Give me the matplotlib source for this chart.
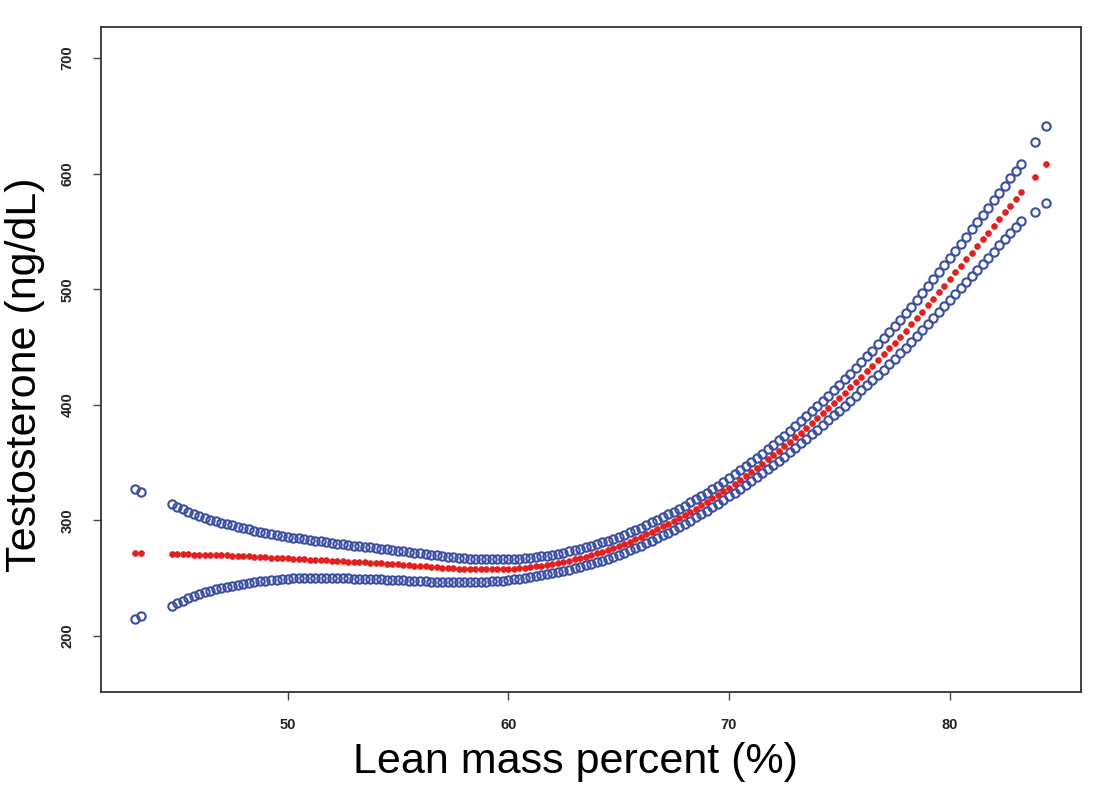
import matplotlib
matplotlib.use("Agg")
import matplotlib.pyplot as plt

# lean mass percent (x) and fitted testosterone with its upper / lower bounds
lean_mass = [
    43.1, 43.35,
    44.75, 45.0, 45.25, 45.5, 45.75, 46.0, 46.25, 46.5, 46.75, 47.0,
    47.25, 47.5, 47.75, 48.0, 48.25, 48.5, 48.75, 49.0, 49.25, 49.5,
    49.75, 50.0, 50.25, 50.5, 50.75, 51.0, 51.25, 51.5, 51.75, 52.0,
    52.25, 52.5, 52.75, 53.0, 53.25, 53.5, 53.75, 54.0, 54.25, 54.5,
    54.75, 55.0, 55.25, 55.5, 55.75, 56.0, 56.25, 56.5, 56.75, 57.0,
    57.25, 57.5, 57.75, 58.0, 58.25, 58.5, 58.75, 59.0, 59.25, 59.5,
    59.75, 60.0, 60.25, 60.5, 60.75, 61.0, 61.25, 61.5, 61.75, 62.0,
    62.25, 62.5, 62.75, 63.0, 63.25, 63.5, 63.75, 64.0, 64.25, 64.5,
    64.75, 65.0, 65.25, 65.5, 65.75, 66.0, 66.25, 66.5, 66.75, 67.0,
    67.25, 67.5, 67.75, 68.0, 68.25, 68.5, 68.75, 69.0, 69.25, 69.5,
    69.75, 70.0, 70.25, 70.5, 70.75, 71.0, 71.25, 71.5, 71.75, 72.0,
    72.25, 72.5, 72.75, 73.0, 73.25, 73.5, 73.75, 74.0, 74.25, 74.5,
    74.75, 75.0, 75.25, 75.5, 75.75, 76.0, 76.25, 76.5, 76.75, 77.0,
    77.25, 77.5, 77.75, 78.0, 78.25, 78.5, 78.75, 79.0, 79.25, 79.5,
    79.75, 80.0, 80.25, 80.5, 80.75, 81.0, 81.25, 81.5, 81.75, 82.0,
    82.25, 82.5, 82.75, 83.0, 83.25,
    83.86, 84.36,
]

fitted = [
    271.8, 271.8,
    270.9, 270.8, 270.7, 270.6, 270.5, 270.4, 270.3, 270.2, 270.1, 270.0,
    269.8, 269.6, 269.4, 269.2, 269.0, 268.7, 268.5, 268.2, 267.9, 267.6,
    267.4, 267.1, 266.9, 266.6, 266.4, 266.1, 265.9, 265.6, 265.4, 265.1,
    264.9, 264.6, 264.4, 264.1, 263.9, 263.6, 263.4, 263.1, 262.8, 262.5,
    262.2, 261.9, 261.6, 261.2, 260.9, 260.5, 260.2, 259.8, 259.5, 259.1,
    258.8, 258.5, 258.2, 258.0, 257.8, 257.7, 257.6, 257.6, 257.6, 257.7,
    257.9, 258.1, 258.4, 258.7, 259.1, 259.6, 260.2, 260.8, 261.5, 262.3,
    263.2, 264.2, 265.2, 266.3, 267.5, 268.7, 270.1, 271.5, 273.0, 274.5,
    276.2, 278.0, 279.8, 281.7, 283.7, 285.8, 288.0, 290.2, 292.5, 294.8,
    297.2, 299.7, 302.2, 304.8, 307.5, 310.3, 313.1, 316.0, 319.0, 322.1,
    325.2, 328.4, 331.7, 335.0, 338.4, 341.9, 345.4, 349.0, 352.7, 356.4,
    360.2, 364.0, 367.9, 371.9, 375.9, 380.0, 384.2, 388.4, 392.7, 397.0,
    401.4, 405.9, 410.4, 415.0, 419.7, 424.4, 429.2, 434.0, 438.9, 443.8,
    448.8, 453.9, 459.0, 464.1, 469.6, 475.1, 480.6, 486.2, 491.8, 497.4,
    503.1, 508.9, 514.5, 520.1, 525.8, 531.6, 537.3, 543.1, 548.9, 554.8,
    560.6, 566.5, 572.4, 578.3, 584.1,
    597.0, 608.0,
]

upper = [
    327.0, 324.6,
    314.2, 311.8, 309.7, 307.6, 305.7, 303.9, 302.3, 300.7, 299.3, 298.0,
    296.8, 295.6, 294.4, 293.2, 292.2, 291.2, 290.2, 289.2, 288.3, 287.4,
    286.6, 285.8, 285.1, 284.4, 283.8, 283.1, 282.5, 281.8, 281.2, 280.6,
    280.0, 279.4, 278.8, 278.2, 277.7, 277.1, 276.6, 276.0, 275.4, 274.9,
    274.3, 273.8, 273.2, 272.6, 272.0, 271.4, 270.9, 270.3, 269.8, 269.2,
    268.7, 268.2, 267.7, 267.4, 267.0, 266.8, 266.5, 266.4, 266.3, 266.3,
    266.4, 266.5, 266.7, 266.9, 267.3, 267.7, 268.2, 268.8, 269.5, 270.3,
    271.2, 272.2, 273.2, 274.3, 275.5, 276.7, 278.1, 279.5, 281.0, 282.5,
    284.2, 286.0, 287.8, 289.7, 291.7, 293.8, 296.0, 298.2, 300.5, 302.8,
    305.2, 307.7, 310.2, 312.8, 315.5, 318.3, 321.1, 324.0, 327.0, 330.1,
    333.2, 336.5, 339.9, 343.2, 346.7, 350.3, 353.9, 357.6, 361.5, 365.3,
    369.2, 373.2, 377.2, 381.4, 385.6, 389.9, 394.3, 398.7, 403.2, 407.7,
    412.4, 417.1, 421.9, 426.7, 431.7, 436.7, 441.8, 446.9, 452.2, 457.4,
    462.8, 468.2, 473.7, 479.1, 485.0, 490.9, 496.8, 502.8, 508.8, 514.8,
    521.0, 527.2, 533.2, 539.3, 545.4, 551.7, 557.9, 564.1, 570.4, 576.8,
    583.1, 589.5, 595.9, 602.3, 608.6,
    627.0, 641.0,
]

lower = [
    214.7, 217.3,
    225.9, 228.3, 230.5, 232.6, 234.5, 236.4, 237.8, 239.2, 240.4, 241.5,
    242.6, 243.6, 244.4, 245.2, 246.0, 246.7, 247.4, 247.9, 248.4, 248.8,
    249.2, 249.5, 249.8, 250.0, 250.2, 250.2, 250.3, 250.3, 250.3, 250.2,
    250.2, 250.0, 249.9, 249.7, 249.6, 249.4, 249.3, 249.1, 248.9, 248.7,
    248.5, 248.3, 248.2, 247.9, 247.8, 247.5, 247.4, 247.1, 247.0, 246.7,
    246.6, 246.5, 246.4, 246.4, 246.4, 246.5, 246.7, 246.9, 247.2, 247.5,
    248.0, 248.4, 249.0, 249.5, 250.1, 250.8, 251.6, 252.4, 253.3, 254.2,
    255.2, 256.3, 257.4, 258.6, 259.8, 261.0, 262.4, 263.8, 265.3, 266.8,
    268.5, 270.3, 272.1, 274.0, 276.0, 278.1, 280.3, 282.5, 284.8, 287.1,
    289.5, 292.0, 294.5, 297.1, 299.8, 302.6, 305.4, 308.3, 311.3, 314.4,
    317.5, 320.7, 324.0, 327.2, 330.6, 334.0, 337.4, 340.8, 344.4, 348.0,
    351.6, 355.2, 359.0, 362.8, 366.6, 370.5, 374.5, 378.5, 382.6, 386.6,
    390.8, 395.0, 399.2, 403.6, 408.0, 412.4, 416.9, 421.4, 425.9, 430.5,
    435.1, 439.9, 444.6, 449.3, 454.4, 459.5, 464.5, 469.7, 474.8, 480.0,
    485.2, 490.6, 495.7, 500.9, 506.1, 511.4, 516.6, 521.9, 527.2, 532.6,
    537.9, 543.2, 548.6, 553.9, 559.1,
    567.0, 575.0,
]

x_ticks = [50, 60, 70, 80]
y_ticks = [200, 300, 400, 500, 600, 700]

blue = '#3a4ea3'
red = '#e3201f'

fig = plt.figure(figsize=(11.02, 8.02), dpi=100)
ax = fig.add_axes([0.0917, 0.1372, 0.8893, 0.8291])

for band in (upper, lower):
    ax.plot(lean_mass, band, linestyle='none', marker='o', markersize=6.0,
            markerfacecolor='none', markeredgecolor=blue, markeredgewidth=1.5)
ax.plot(lean_mass, fitted, linestyle='none', marker='o', markersize=4.2,
        markerfacecolor=red, markeredgecolor=red, markeredgewidth=0.5)

ax.set_xlim(41.55, 85.95)
ax.set_ylim(151.6, 726.8)
ax.set_xticks(x_ticks)
ax.set_yticks(y_ticks)
ax.set_xticklabels([str(t) for t in x_ticks], fontsize=10.5, fontweight='bold',
                   family='Liberation Sans', color='#222222')
ax.set_yticklabels([str(t) for t in y_ticks], fontsize=10.5, fontweight='bold',
                   family='Liberation Sans', color='#222222', rotation=90, va='center')
ax.tick_params(axis='both', direction='out', length=6, width=1, color='#444444')
ax.tick_params(axis='x', pad=13)
ax.tick_params(axis='y', pad=13)
for sp in ax.spines.values():
    sp.set_linewidth(1.3)
    sp.set_color('#333333')

ax.set_xlabel('Lean mass percent (%)', fontsize=31, family='Liberation Sans')
ax.set_ylabel('Testosterone (ng/dL)', fontsize=31, family='Liberation Sans')
ax.xaxis.set_label_coords(0.484, -0.075)
ax.yaxis.set_label_coords(-0.057, 0.477)

fig.savefig('out.png', dpi=100)
